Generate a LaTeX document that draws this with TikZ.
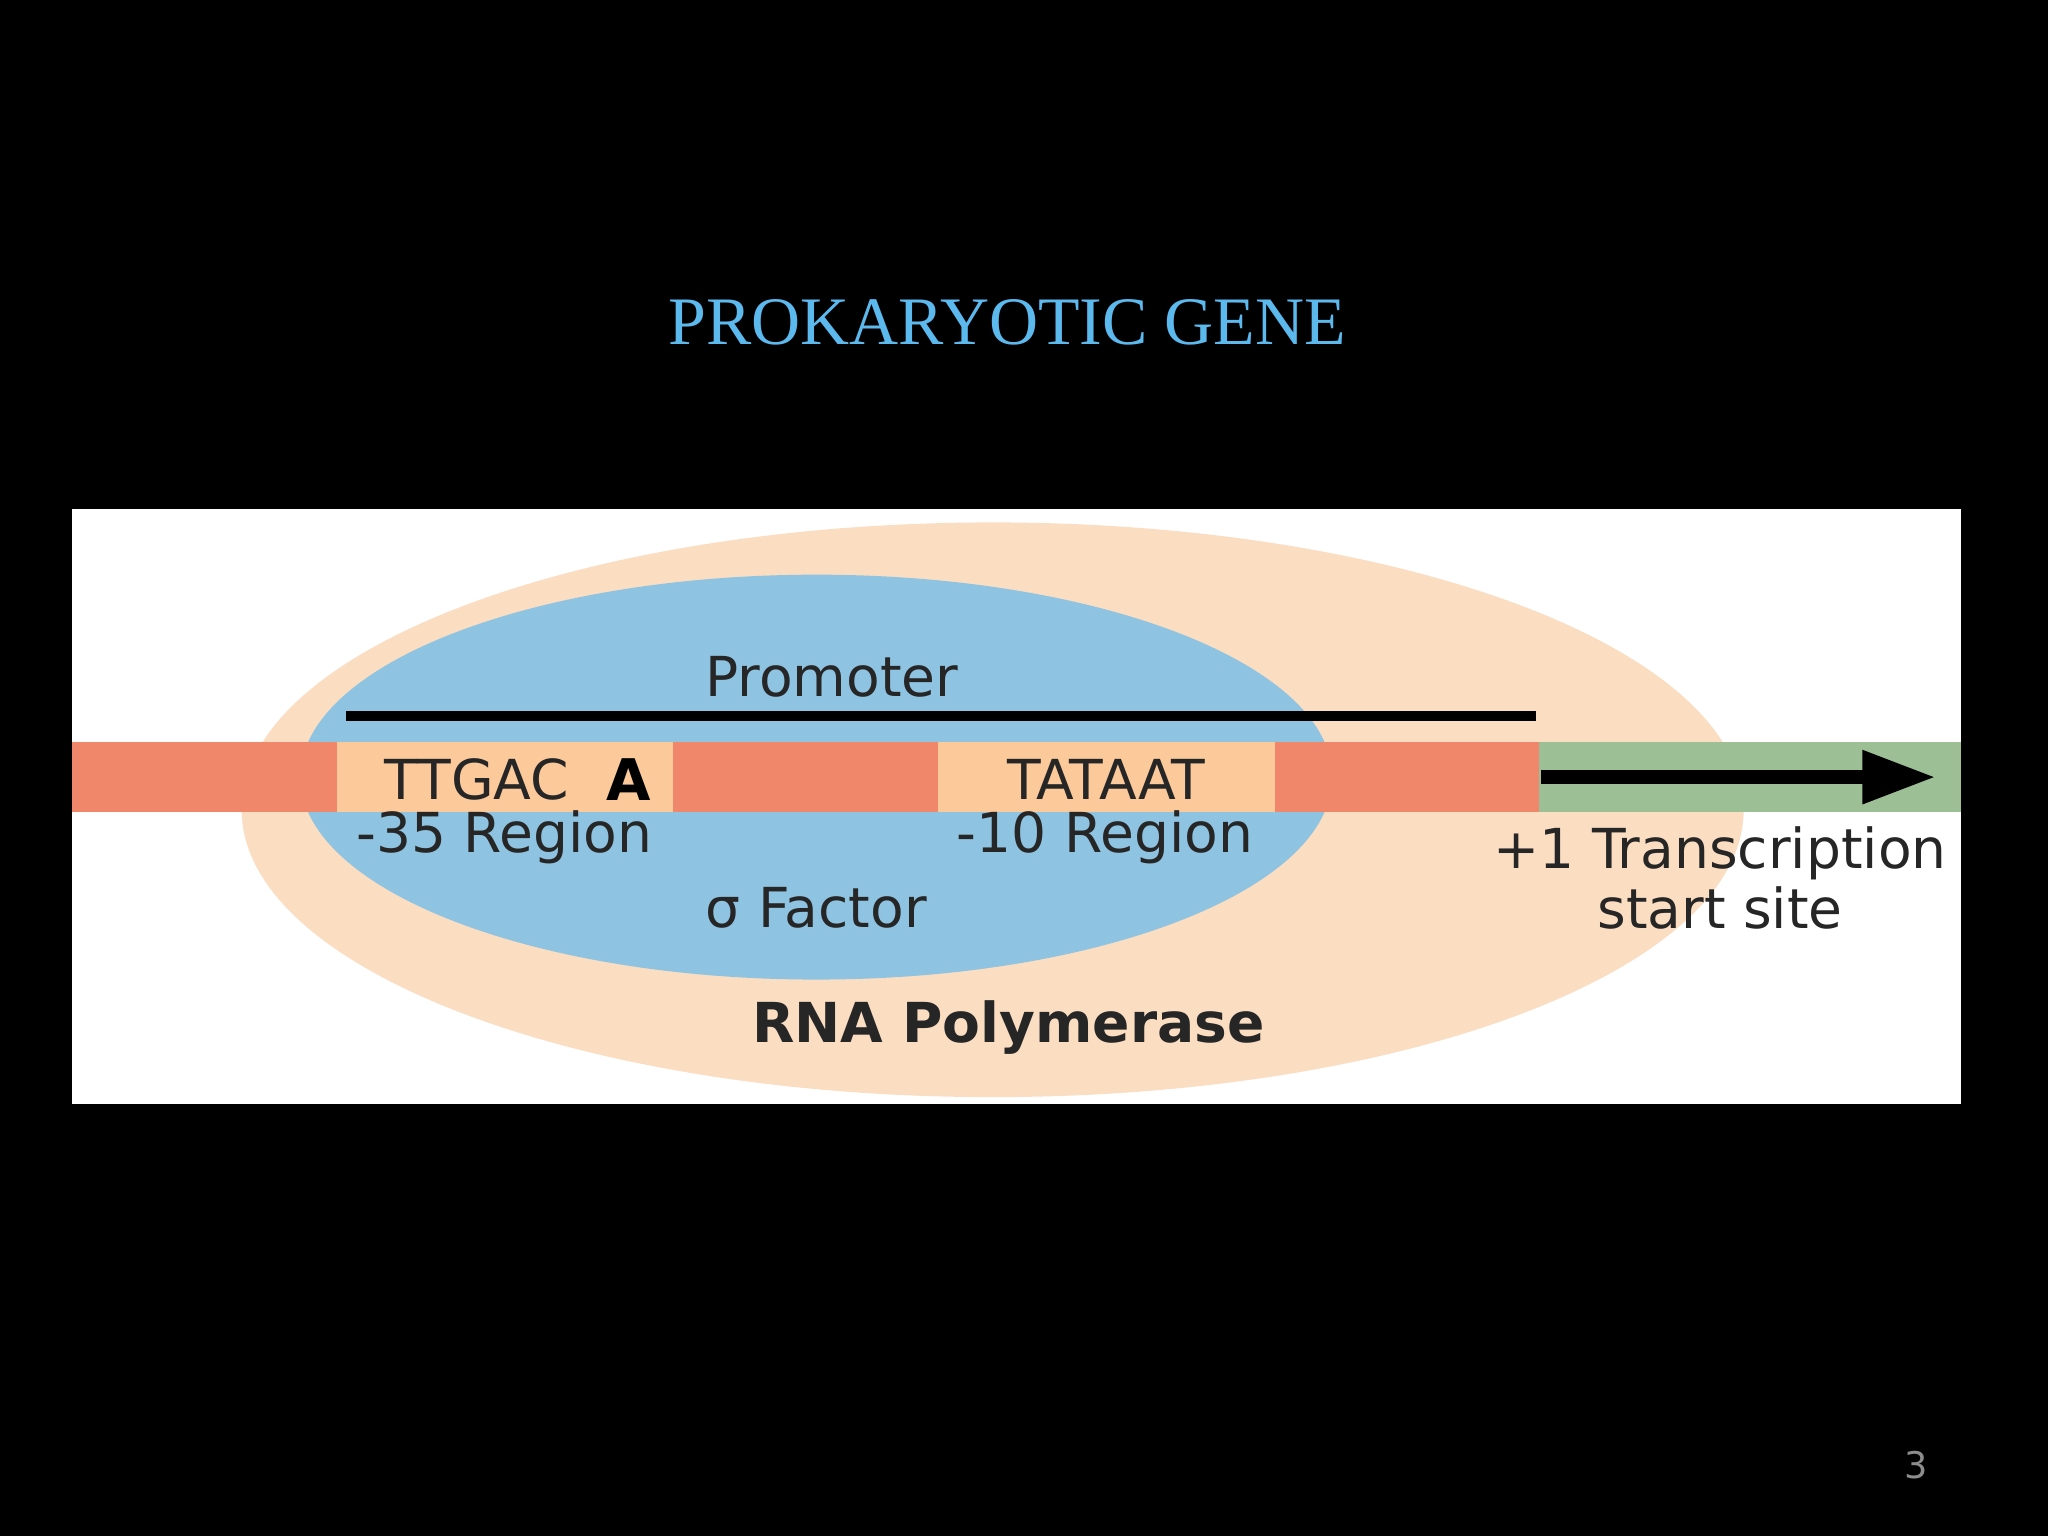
\documentclass[tikz,border=0pt]{standalone}
\usepackage{fontspec}
\setmainfont{DejaVu Sans}
\newfontfamily\titlefont{Liberation Serif}
\usetikzlibrary{arrows.meta}
\definecolor{peach}{HTML}{FBDDC2}
\definecolor{sky}{HTML}{8EC3E1}
\definecolor{salmon}{HTML}{F0866A}
\definecolor{boxpeach}{HTML}{FBC99A}
\definecolor{leaf}{HTML}{9DBF95}
\definecolor{titleblue}{HTML}{5CB9EE}
\tikzset{
  lbl/.style={font=\fontsize{12}{14}\selectfont, text=black!85, inner sep=0pt},
  seq/.style={font=\fontsize{12}{14}\selectfont, text=black!85, inner sep=0pt},
}
\begin{document}
\begin{tikzpicture}[x=1cm,y=1cm]
    % background and frame (units: px/100, y flipped)
    \fill[black] (0,0) rectangle (15.68,11.76);
    \useasboundingbox (0,0) rectangle (15.68,11.76);
    \node[font=\titlefont\fontsize{14.8}{18}\selectfont, text=titleblue] (title) at (7.71,9.29) {PROKARYOTIC GENE};
    \fill[white] (0.55,3.31) rectangle (15.01,7.86);

    % polymerase and sigma factor
    \fill[peach] (7.60,5.56) ellipse (5.75 and 2.20);
    \fill[sky] (6.25,5.81) ellipse (3.95 and 1.55);

    % DNA strand
    \fill[salmon] (0.55,5.54) rectangle (11.78,6.08);
    \fill[boxpeach] (2.58,5.54) rectangle (5.15,6.08);
    \fill[boxpeach] (7.18,5.54) rectangle (9.76,6.08);
    \fill[leaf] (11.78,5.54) rectangle (15.01,6.08);
    \coordinate (start) at (11.80,5.81);
    \coordinate (tip) at (14.82,5.81);
    \draw[line width=3pt, -{Triangle[length=16pt,width=11pt]}] (start) -- (tip);

    % promoter bar
    \coordinate (pl) at (2.65,6.28);
    \coordinate (pr) at (11.76,6.28);
    \draw[line width=2.2pt] (pl) -- (pr);
    \node[lbl] (promoter) at (6.37,6.58) {Promoter};

    % labels
    \node[seq] (ttgac) at (3.65,5.79) {TTGAC};
    \node[seq, font=\fontsize{12.5}{14}\selectfont\bfseries, text=black] (a) at (4.81,5.79) {A};
    \node[seq] (tataat) at (8.47,5.79) {TATAAT};
    \node[lbl] (r35) at (3.86,5.35) {-35 Region};
    \node[lbl] (r10) at (8.46,5.35) {-10 Region};
    \node[lbl] (sigma) at (6.25,4.81) {σ Factor};
    \node[lbl, align=center] (plus) at (13.17,5.04) {+1 Transcription\\[-1pt]start site};
    \node[lbl, font=\fontsize{12}{14}\selectfont\bfseries] (rnap) at (7.72,3.89) {RNA Polymerase};

    \node[font=\fontsize{8}{9}\selectfont, text=black!45!white] (page) at (14.67,0.54) {3};
\end{tikzpicture}
\end{document}
